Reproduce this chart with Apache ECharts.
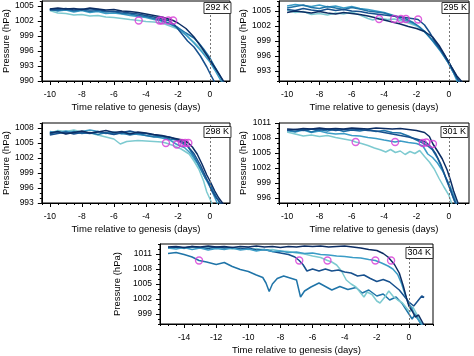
<!DOCTYPE html>
<html><head><meta charset="utf-8">
<script src="https://cdn.jsdelivr.net/npm/echarts@6/dist/echarts.min.js"></script>
<style>html,body{margin:0;padding:0;background:#fff}#c{width:474px;height:356px}</style>
</head><body><div id="c"></div>
<script>
// ---------- tick labels ----------
const xTicksTop = [-10, -8, -6, -4, -2, 0];
const xTicksBottom = [-14, -12, -10, -8, -6, -4, -2, 0];
const yTicksP1 = [990, 993, 996, 999, 1002, 1005];
const yTicksP2 = [993, 996, 999, 1002, 1005];
const yTicksP3 = [993, 996, 999, 1002, 1005, 1008];
const yTicksP4 = [996, 999, 1002, 1005, 1008, 1011];
const yTicksP5 = [999, 1002, 1005, 1008, 1011];
const panelLabels = ['292 K', '295 K', '298 K', '301 K', '304 K'];

// ---------- 292 K ----------
const P1_navy = [[-10,1004.4],[-9.5,1004.6],[-9,1004.4],[-8.5,1004.5],[-8,1004.3],[-7.5,1004.6],[-7,1004.4],[-6.5,1004.2],[-6,1004.3],[-5.5,1004.0],[-5,1003.9],[-4.5,1003.7],[-4,1003.4],[-3.5,1003.1],[-3,1002.8],[-2.6,1002.4],[-2.3,1002.1],[-2,1001.6],[-1.5,1000.5],[-1,998.8],[-0.5,996.6],[0,994.2],[0.4,992.2],[0.9,989.7]];
const P1_dark = [[-10,1004.2],[-9.5,1004.3],[-9,1004.5],[-8.5,1004.2],[-8,1004.4],[-7.5,1004.2],[-7,1004.3],[-6.5,1004.0],[-6,1003.9],[-5.5,1003.8],[-5,1003.6],[-4.5,1003.4],[-4,1003.1],[-3.5,1002.8],[-3,1002.4],[-2.6,1002.1],[-2.2,1001.2],[-1.8,999.6],[-1.4,998.0],[-1,996.8],[-0.6,995.0],[-0.2,992.8],[0,991.5],[0.3,989.7]];
const P1_mid = [[-10,1004.3],[-9.5,1004.1],[-9,1004.3],[-8.5,1004.0],[-8,1004.2],[-7.5,1003.9],[-7,1004.1],[-6.5,1003.8],[-6,1003.9],[-5.5,1003.5],[-5,1003.4],[-4.5,1003.1],[-4,1002.9],[-3.5,1002.5],[-3,1002.1],[-2.5,1001.5],[-2,1000.7],[-1.5,999.6],[-1,998.6],[-0.7,997.6],[-0.4,996.4],[0,994.6],[0.3,992.8],[0.6,991.2],[0.85,989.7]];
const P1_teal = [[-10,1004.4],[-9.5,1004.0],[-9,1004.2],[-8.5,1003.8],[-8,1004.1],[-7.5,1003.7],[-7,1003.9],[-6.5,1003.5],[-6,1003.6],[-5.5,1003.4],[-5,1003.1],[-4.5,1002.9],[-4,1002.7],[-3.5,1002.3],[-3.15,1002.1],[-2.5,1001.4],[-2,1000.6],[-1.5,999.2],[-1,997.6],[-0.5,995.8],[0,993.8],[0.3,992.2],[0.75,989.7]];
const P1_light = [[-10,1004.1],[-9.5,1003.6],[-9,1003.5],[-8.5,1003.2],[-8,1003.3],[-7.5,1003.0],[-7,1003.1],[-6.5,1002.8],[-6,1002.7],[-5.5,1002.5],[-5,1002.3],[-4.45,1002.1],[-4,1001.9],[-3.5,1001.8],[-3,1001.6],[-2.5,1001.0],[-2,1000.4],[-1.5,999.2],[-1,997.8],[-0.5,996.2],[0,994.4],[0.4,992.2],[0.85,989.7]];
const P1_genesis = [[-4.45,1002.1],[-3.15,1002.1],[-3.0,1002.1],[-2.6,1002.1],[-2.3,1002.1]];

// ---------- 295 K ----------
const P2_navy = [[-10,1004.7],[-9.5,1005.0],[-9,1004.8],[-8.5,1004.6],[-8,1004.9],[-7.5,1004.6],[-7,1004.4],[-6.5,1004.7],[-6,1004.5],[-5.5,1004.3],[-5,1004.0],[-4.6,1003.7],[-4.31,1003.4],[-4,1003.2],[-3.5,1002.8],[-3,1002.4],[-2.5,1001.9],[-2,1001.5],[-1.5,1000.9],[-1,999.8],[-0.6,998.1],[-0.2,995.9],[0.2,993.6],[0.5,992],[0.85,990.7]];
const P2_light = [[-10,1005.2],[-9.5,1004.7],[-9,1004.9],[-8.5,1004.3],[-8,1004.5],[-7.5,1004.2],[-7,1004.6],[-6.5,1004.4],[-6,1004.8],[-5.5,1004.2],[-5,1003.5],[-4.7,1003.2],[-4.3,1003.6],[-3.8,1003.3],[-3.38,1003.4],[-3,1003.1],[-2.5,1002.6],[-2,1002.0],[-1.5,1000.8],[-1,999.2],[-0.5,997.2],[0,994.8],[0.3,993.0],[0.65,990.7]];
const P2_teal = [[-10,1006.0],[-9.5,1006.3],[-9,1006.1],[-8.5,1005.9],[-8,1006.2],[-7.5,1005.8],[-7,1006.0],[-6.5,1005.6],[-6,1005.9],[-5.5,1005.5],[-5,1005.3],[-4.5,1005.0],[-4,1004.7],[-3.5,1004.2],[-2.96,1003.4],[-2.5,1002.9],[-2,1002.2],[-1.5,1001.0],[-1,999.0],[-0.5,996.9],[0,994.5],[0.3,992.6],[0.55,990.7]];
const P2_mid = [[-10,1005.6],[-9.5,1005.9],[-9,1006.2],[-8.5,1005.7],[-8,1005.5],[-7.5,1005.9],[-7,1005.6],[-6.5,1005.3],[-6,1005.7],[-5.5,1005.4],[-5,1005.0],[-4.5,1004.8],[-4,1004.6],[-3.5,1004.1],[-3,1003.8],[-2.65,1003.4],[-2.2,1002.7],[-1.8,1001.8],[-1.4,1000.5],[-1,999.1],[-0.5,997.1],[-0.1,995.0],[0.2,993.2],[0.45,991.8],[0.7,990.7]];
const P2_dark = [[-10,1005.3],[-9.5,1005.1],[-9,1005.5],[-8.5,1005.2],[-8,1005.0],[-7.5,1005.4],[-7,1005.1],[-6.5,1005.3],[-6,1005.0],[-5.5,1004.9],[-5,1004.6],[-4.5,1004.4],[-4,1004.2],[-3.5,1004.0],[-3,1003.8],[-2.5,1003.6],[-1.9,1003.3],[-1.5,1002.2],[-1.2,1000.8],[-0.8,998.6],[-0.4,996.8],[0,994.8],[0.3,993.0],[0.65,990.7]];
const P2_genesis = [[-4.31,1003.4],[-3.38,1003.4],[-2.96,1003.4],[-2.65,1003.4],[-1.9,1003.3]];

// ---------- 298 K ----------
const P3_light = [[-10,1006.9],[-9.5,1007.5],[-9,1007.3],[-8.5,1007.6],[-8,1007.2],[-7.5,1007.0],[-7,1006.6],[-6.5,1006.2],[-6,1005.8],[-5.6,1004.8],[-5.2,1005.3],[-4.5,1005.5],[-4,1005.4],[-3.5,1005.3],[-3,1005.2],[-2.75,1005.0],[-2.3,1004.5],[-1.8,1003.8],[-1.3,1002.8],[-1,1001.4],[-0.7,999.8],[-0.4,997.4],[-0.2,995.2],[0,993.8],[0.15,992.7]];
const P3_teal = [[-10,1007.3],[-9.5,1007.0],[-9,1007.4],[-8.5,1007.0],[-8,1007.3],[-7.5,1007.6],[-7,1007.3],[-6.5,1006.9],[-6,1007.2],[-5.5,1006.8],[-5,1007.0],[-4.5,1006.7],[-4,1006.5],[-3.5,1006.3],[-3,1006.0],[-2.5,1005.6],[-2.07,1004.7],[-1.6,1004.1],[-1.2,1002.9],[-0.8,1001.0],[-0.4,998.6],[0,996.2],[0.2,994.8],[0.5,992.7]];
const P3_mid = [[-10,1006.8],[-9.5,1007.2],[-9,1006.9],[-8.5,1007.3],[-8,1006.9],[-7.5,1007.1],[-7,1006.7],[-6.5,1007.1],[-6,1006.8],[-5.5,1007.0],[-5,1006.6],[-4.5,1006.9],[-4,1006.5],[-3.5,1006.2],[-3,1006.3],[-2.5,1005.8],[-2.1,1005.6],[-1.76,1005.0],[-1.4,1004.4],[-1,1002.4],[-0.6,1000.0],[-0.3,998.0],[0,996.8],[0.2,995.5],[0.45,994],[0.65,992.7]];
const P3_dark = [[-10,1006.6],[-9.5,1006.9],[-9,1007.2],[-8.5,1006.8],[-8,1007.1],[-7.5,1006.9],[-7,1007.3],[-6.5,1007.0],[-6,1006.7],[-5.5,1007.1],[-5,1007.4],[-4.5,1007.0],[-4,1006.9],[-3.5,1006.6],[-3,1006.4],[-2.5,1006.2],[-2,1005.6],[-1.55,1005.0],[-1.3,1004.0],[-1,1002.9],[-0.6,1000.6],[-0.2,997.8],[0.1,995.6],[0.4,994.0],[0.75,992.7]];
const P3_navy = [[-10,1007.0],[-9.5,1007.3],[-9,1006.8],[-8.5,1007.1],[-8,1007.4],[-7.5,1007.0],[-7,1007.2],[-6.5,1007.5],[-6,1007.1],[-5.5,1007.3],[-5,1006.8],[-4.5,1007.2],[-4,1007.0],[-3.5,1006.7],[-3,1006.5],[-2.5,1006.1],[-2,1005.8],[-1.6,1005.5],[-1.35,1005.0],[-1.1,1004.2],[-0.8,1002.8],[-0.5,1000.8],[-0.2,998.6],[0,997.4],[0.3,995.4],[0.55,994],[0.85,992.7]];
const P3_genesis = [[-2.75,1005.0],[-2.07,1004.7],[-1.76,1005.0],[-1.55,1005.0],[-1.35,1005.0]];

// ---------- 301 K ----------
const P4_light = [[-10,1009.2],[-9.5,1008.8],[-9,1008.4],[-8.5,1008.6],[-8,1008.3],[-7.5,1008.5],[-7,1008.1],[-6.5,1007.8],[-6,1007.5],[-5.76,1007.2],[-5.4,1006.9],[-5,1006.5],[-4.6,1006.0],[-4.2,1005.6],[-3.9,1005.2],[-3.6,1005.7],[-3.3,1005.1],[-3,1005.4],[-2.7,1004.7],[-2.4,1005.3],[-2.1,1004.9],[-1.8,1005.5],[-1.5,1004.3],[-1.2,1003.2],[-0.9,1001.8],[-0.6,999.9],[-0.3,998.2],[0,996.6],[0.2,994.7]];
const P4_teal = [[-10,1009.5],[-9.5,1009.2],[-9,1009.6],[-8.5,1009.1],[-8,1009.4],[-7.5,1009.0],[-7,1008.8],[-6.5,1008.9],[-6,1008.5],[-5.5,1008.4],[-5,1008.1],[-4.5,1007.9],[-4,1007.6],[-3.32,1007.2],[-3,1007.4],[-2.5,1007.1],[-2,1006.9],[-1.6,1006.4],[-1.3,1004.8],[-1,1004.1],[-0.7,1003.0],[-0.4,1001.5],[-0.1,999.6],[0.1,998.2],[0.3,996.6],[0.5,994.7]];
const P4_mid = [[-10,1009.6],[-9.5,1009.3],[-9,1009.8],[-8.5,1009.2],[-8,1009.7],[-7.5,1009.4],[-7,1009.8],[-6.5,1009.3],[-6,1009.6],[-5.5,1009.4],[-5,1009.7],[-4.5,1009.3],[-4,1009.5],[-3.5,1009.1],[-3,1009.0],[-2.5,1008.4],[-2,1007.6],[-1.61,1007.0],[-1.3,1006.4],[-1,1005.6],[-0.7,1004.0],[-0.4,1001.8],[-0.1,999.2],[0.1,997.6],[0.3,995.8],[0.45,994.7]];
const P4_dark = [[-10,1009.5],[-9.5,1009.7],[-9,1009.5],[-8.5,1009.8],[-8,1009.6],[-7.5,1009.8],[-7,1009.5],[-6.5,1009.7],[-6,1009.6],[-5.5,1009.7],[-5,1009.5],[-4.5,1009.4],[-4,1009.1],[-3.5,1008.8],[-3,1008.5],[-2.5,1008.2],[-2,1007.8],[-1.7,1007.5],[-1.39,1007.1],[-1.1,1006.2],[-0.8,1004.8],[-0.5,1002.8],[-0.2,1000.2],[0,998.6],[0.2,996.8],[0.45,994.7]];
const P4_navy = [[-10,1009.8],[-9.5,1009.7],[-9,1009.9],[-8.5,1009.8],[-8,1010.0],[-7.5,1009.8],[-7,1009.9],[-6.5,1009.8],[-6,1010.0],[-5.5,1009.9],[-5,1009.8],[-4.5,1010.0],[-4,1009.9],[-3.5,1009.8],[-3,1009.9],[-2.5,1009.7],[-2,1009.5],[-1.5,1009.1],[-1.2,1008.3],[-0.98,1006.8],[-0.7,1005.4],[-0.4,1003.8],[-0.1,1001.6],[0.1,999.6],[0.3,997.4],[0.5,995.6],[0.6,994.7]];
const P4_genesis = [[-5.76,1007.2],[-3.32,1007.2],[-1.61,1007.0],[-1.39,1007.1],[-0.98,1006.8]];

// ---------- 304 K ----------
const P5_mid = [[-15,1011.1],[-14.5,1011.3],[-14,1010.9],[-13.5,1010.4],[-13.07,1009.7],[-12.6,1009.4],[-12,1008.9],[-11.5,1009.3],[-11,1008.5],[-10.5,1007.9],[-10,1007.5],[-9.5,1006.8],[-9.1,1006.3],[-8.9,1005.2],[-8.7,1003.5],[-8.5,1005.0],[-8.2,1006.1],[-7.8,1006.6],[-7.4,1006.2],[-7.0,1005.8],[-6.75,1002.4],[-6.5,1003.6],[-6.1,1004.4],[-5.6,1005.2],[-5.2,1004.5],[-4.8,1003.8],[-4.3,1004.5],[-3.8,1003.9],[-3.3,1004.3],[-2.9,1003.2],[-2.5,1003.8],[-2.0,1002.6],[-1.6,1003.0],[-1.2,1001.8],[-0.8,1002.4],[-0.4,1001.0],[-0.1,999.5],[0.2,998.0],[0.4,999.0],[0.6,997.8],[0.8,996.7]];
const P5_dark = [[-15,1012.2],[-14.5,1012.4],[-14,1012.2],[-13.5,1012.5],[-13,1012.3],[-12.5,1012.1],[-12,1012.4],[-11.5,1012.2],[-11,1012.3],[-10.5,1012.0],[-10,1012.2],[-9.5,1011.8],[-9,1011.9],[-8.5,1011.5],[-8,1011.2],[-7.5,1010.9],[-7.1,1010.4],[-6.83,1009.7],[-6.6,1008.9],[-6.35,1007.6],[-6.0,1008.0],[-5.6,1007.6],[-5.2,1008.0],[-4.8,1007.6],[-4.4,1007.8],[-4.0,1007.4],[-3.6,1007.2],[-3.2,1006.6],[-2.8,1006.8],[-2.4,1006.1],[-2.0,1005.5],[-1.6,1005.9],[-1.2,1005.4],[-0.9,1004.6],[-0.6,1003.8],[-0.3,1002.6],[0,1001.4],[0.3,1000.6],[0.55,1001.6],[0.8,1002.6],[0.95,1002.3]];
const P5_light = [[-15,1012.3],[-14.5,1012.4],[-14,1012.1],[-13.5,1012.4],[-13,1012.2],[-12.5,1012.4],[-12,1012.1],[-11.5,1012.3],[-11,1012.0],[-10.5,1012.2],[-10,1011.9],[-9.5,1012.1],[-9,1011.8],[-8.5,1011.9],[-8,1011.6],[-7.5,1011.5],[-7,1011.2],[-6.5,1011.0],[-6,1010.6],[-5.5,1010.3],[-5.07,1009.7],[-4.8,1009.4],[-4.5,1008.8],[-4.2,1007.6],[-3.9,1005.8],[-3.6,1005.0],[-3.3,1004.4],[-3.0,1003.2],[-2.8,1002.4],[-2.6,1003.4],[-2.3,1002.9],[-2.0,1001.6],[-1.8,1001.2],[-1.5,1002.4],[-1.25,1003.6],[-1.0,1002.6],[-0.7,1001.8],[-0.4,1001.2],[-0.15,1000.2],[0.05,999.4],[0.25,1000.4],[0.45,999.2],[0.65,998.0],[0.85,996.7]];
const P5_teal = [[-15,1012.2],[-14.5,1012.0],[-14,1012.3],[-13.5,1011.9],[-13,1012.2],[-12.5,1011.8],[-12,1012.1],[-11.5,1011.9],[-11,1012.2],[-10.5,1011.8],[-10,1012.0],[-9.5,1011.6],[-9,1011.9],[-8.5,1011.5],[-8,1011.6],[-7.5,1011.3],[-7,1011.4],[-6.5,1011.1],[-6,1011.2],[-5.5,1010.9],[-5,1010.8],[-4.5,1010.6],[-4,1010.5],[-3.5,1010.3],[-3,1010.2],[-2.5,1009.9],[-2.09,1009.7],[-1.7,1009.2],[-1.3,1008.6],[-1,1008.0],[-0.7,1006.9],[-0.45,1005.0],[-0.25,1003.0],[-0.05,1001.2],[0.15,1000.4],[0.35,999.0],[0.5,998.2],[0.7,997.4],[0.85,996.7]];
const P5_navy = [[-15,1012.4],[-14.5,1012.5],[-14,1012.3],[-13.5,1012.5],[-13,1012.4],[-12.5,1012.6],[-12,1012.4],[-11.5,1012.5],[-11,1012.3],[-10.5,1012.5],[-10,1012.4],[-9.5,1012.6],[-9,1012.4],[-8.5,1012.5],[-8,1012.3],[-7.5,1012.5],[-7,1012.4],[-6.5,1012.6],[-6,1012.5],[-5.5,1012.6],[-5,1012.4],[-4.5,1012.5],[-4,1012.6],[-3.5,1012.4],[-3,1012.2],[-2.5,1011.9],[-2,1011.7],[-1.6,1011.1],[-1.3,1010.4],[-1.11,1009.7],[-0.9,1008.9],[-0.6,1007.2],[-0.35,1004.6],[-0.15,1002.2],[0,1000.6],[0.2,999.6],[0.4,998.4],[0.6,998.8],[0.8,997.6],[0.95,996.7]];
const P5_genesis = [[-13.07,1009.7],[-6.83,1009.7],[-5.07,1009.7],[-2.09,1009.7],[-1.11,1009.7]];

// ---------- styling / layout ----------
const FONT = '"Liberation Sans", Arial, Helvetica, sans-serif';
const lineColors = { navy: '#0c2d63', dark: '#17508d', mid: '#1f74a8', teal: '#3b9cc6', light: '#7dcad0' };

const panels = [
  { label: panelLabels[0], grid: { left: 41, top: 1, width: 189, height: 80 }, x: [-10.5, 1.25], y: [990, 1006], xTicks: xTicksTop, yTicks: yTicksP1,
    lines: { light: P1_light, teal: P1_teal, mid: P1_mid, dark: P1_dark, navy: P1_navy }, genesis: P1_genesis, box: { right: 243, top: 2 } },
  { label: panelLabels[1], grid: { left: 279, top: 1, width: 190, height: 80 }, x: [-10.5, 1.25], y: [991, 1007], xTicks: xTicksTop, yTicks: yTicksP2,
    lines: { light: P2_light, teal: P2_teal, mid: P2_mid, dark: P2_dark, navy: P2_navy }, genesis: P2_genesis, box: { right: 5, top: 2 } },
  { label: panelLabels[2], grid: { left: 41, top: 123, width: 189, height: 80 }, x: [-10.5, 1.25], y: [993, 1009], xTicks: xTicksTop, yTicks: yTicksP3,
    lines: { light: P3_light, teal: P3_teal, mid: P3_mid, dark: P3_dark, navy: P3_navy }, genesis: P3_genesis, box: { right: 243, top: 126 } },
  { label: panelLabels[3], grid: { left: 279, top: 123, width: 190, height: 80 }, x: [-10.5, 1.25], y: [995, 1011], xTicks: xTicksTop, yTicks: yTicksP4,
    lines: { light: P4_light, teal: P4_teal, mid: P4_mid, dark: P4_dark, navy: P4_navy }, genesis: P4_genesis, box: { right: 6, top: 126 } },
  { label: panelLabels[4], grid: { left: 160, top: 244, width: 273, height: 80 }, x: [-15.5, 1.5], y: [997, 1013], xTicks: xTicksBottom, yTicks: yTicksP5,
    lines: { mid: P5_mid, light: P5_light, dark: P5_dark, teal: P5_teal, navy: P5_navy }, genesis: P5_genesis, box: { right: 41, top: 247 } }
];

function minorTicks(min, max, step, majors) {
  const out = [];
  const n = Math.round((max - min) / step);
  for (let i = 0; i <= n; i++) {
    const v = +(min + i * step).toFixed(3);
    if (majors.indexOf(v) < 0) out.push(v);
  }
  return out;
}
const plainNum = (v) => String(Math.round(v * 100) / 100);

const grids = [], xAxes = [], yAxes = [], series = [], titles = [];
panels.forEach((p, i) => {
  grids.push(Object.assign({ show: true, borderColor: '#000', borderWidth: 1, backgroundColor: 'transparent', containLabel: false }, p.grid));
  const xMinor = minorTicks(Math.ceil(p.x[0] * 2) / 2, Math.floor(p.x[1] * 2) / 2, 0.5, p.xTicks);
  const yMinor = minorTicks(p.y[0], p.y[1], 1, p.yTicks);
  xAxes.push({
    gridIndex: i, type: 'value', min: p.x[0], max: p.x[1], position: 'bottom',
    axisLine: { show: true, onZero: false, lineStyle: { color: '#000', width: 1 } },
    axisTick: { show: true, customValues: p.xTicks, length: 4, lineStyle: { color: '#000', width: 1 } },
    axisLabel: { customValues: p.xTicks, formatter: plainNum, fontSize: 8.5, color: '#000', margin: 9, fontFamily: FONT },
    splitLine: { show: false },
    name: 'Time relative to genesis (days)', nameLocation: 'middle', nameGap: 21,
    nameTextStyle: { fontSize: 9.5, color: '#000', fontFamily: FONT }
  });
  xAxes.push({
    gridIndex: i, type: 'value', min: p.x[0], max: p.x[1], position: 'bottom',
    axisLine: { show: false, onZero: false },
    axisTick: { show: true, customValues: xMinor, length: 2, lineStyle: { color: '#000', width: 1 } },
    axisLabel: { show: false }, splitLine: { show: false }
  });
  yAxes.push({
    gridIndex: i, type: 'value', min: p.y[0], max: p.y[1], position: 'left',
    axisLine: { show: true, onZero: false, lineStyle: { color: '#000', width: 1 } },
    axisTick: { show: true, customValues: p.yTicks, length: 4, lineStyle: { color: '#000', width: 1 } },
    axisLabel: { customValues: p.yTicks, formatter: plainNum, fontSize: 8.5, color: '#000', margin: 8, fontFamily: FONT },
    splitLine: { show: false },
    name: 'Pressure (hPa)', nameLocation: 'middle', nameGap: 26, nameRotate: 90,
    nameTextStyle: { fontSize: 9.5, color: '#000', fontFamily: FONT }
  });
  yAxes.push({
    gridIndex: i, type: 'value', min: p.y[0], max: p.y[1], position: 'left',
    axisLine: { show: false, onZero: false },
    axisTick: { show: true, customValues: yMinor, length: 2, lineStyle: { color: '#000', width: 1 } },
    axisLabel: { show: false }, splitLine: { show: false }
  });
  let first = true;
  Object.keys(p.lines).forEach((k) => {
    const s = {
      type: 'line', xAxisIndex: 2 * i, yAxisIndex: 2 * i, data: p.lines[k],
      showSymbol: false, symbol: 'none', clip: true, silent: true,
      lineStyle: { color: lineColors[k], width: 1.5 }, itemStyle: { color: lineColors[k] }, z: 3
    };
    if (first) {
      s.markLine = {
        silent: true, symbol: ['none', 'none'], label: { show: false },
        lineStyle: { color: '#777', type: [2, 2], width: 1 },
        data: [{ xAxis: 0 }]
      };
      first = false;
    }
    series.push(s);
  });
  series.push({
    type: 'scatter', xAxisIndex: 2 * i, yAxisIndex: 2 * i, data: p.genesis,
    symbol: 'circle', symbolSize: 7, silent: true, z: 6,
    itemStyle: { color: 'rgba(0,0,0,0)', borderColor: '#d63ad6', borderWidth: 1.4 }
  });
  titles.push({
    text: p.label, right: p.box.right, top: p.box.top,
    padding: [1, 2, 1, 2], borderColor: '#333', borderWidth: 1, backgroundColor: '#fff',
    textStyle: { fontSize: 9, fontWeight: 'normal', color: '#000', fontFamily: FONT, lineHeight: 10 }
  });
});

const chart = echarts.init(document.getElementById('c'), null, { renderer: 'canvas' });
chart.setOption({
  animation: false,
  backgroundColor: '#fff',
  title: titles,
  grid: grids,
  xAxis: xAxes,
  yAxis: yAxes,
  series: series
});
</script></body></html>
